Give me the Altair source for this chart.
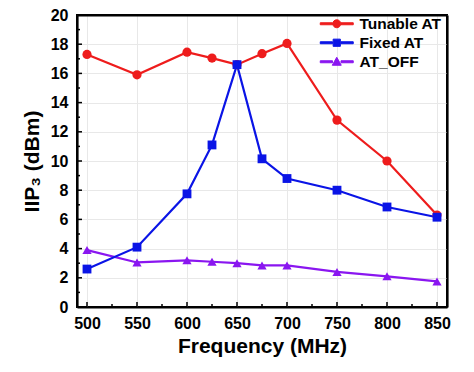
import altair as alt
import pandas as pd

# ---- data ----
freq = [500, 550, 600, 625, 650, 675, 700, 750, 800, 850]
tunable = [17.3, 15.9, 17.45, 17.05, 16.6, 17.35, 18.05, 12.8, 10.0, 6.3]
fixed = [2.6, 4.1, 7.75, 11.1, 16.6, 10.15, 8.8, 8.0, 6.85, 6.15]
at_off = [3.9, 3.05, 3.2, 3.1, 3.0, 2.85, 2.85, 2.4, 2.1, 1.75]

series = ["Tunable AT", "Fixed AT", "AT_OFF"]
colors = ["#ee1c1c", "#0a14e6", "#8a16f0"]
shapes = ["circle", "square", "triangle-up"]

x_major = [500, 550, 600, 650, 700, 750, 800, 850]
x_minor = [525, 575, 625, 675, 725, 775, 825]
y_major = [0, 2, 4, 6, 8, 10, 12, 14, 16, 18, 20]
y_minor = [1, 3, 5, 7, 9, 11, 13, 15, 17, 19]
x_range = [490, 860]
y_range = [0, 20]

rows = []
for name, vals in [("AT_OFF", at_off), ("Tunable AT", tunable), ("Fixed AT", fixed)]:
    for f, v in zip(freq, vals):
        rows.append({"freq": f, "iip3": v, "series": name})
df = pd.DataFrame(rows)

W, H = 370, 292
FONT = "Liberation Sans"

xs = alt.Scale(domain=x_range, nice=False, zero=False)
ys = alt.Scale(domain=y_range, nice=False)
cs = alt.Scale(domain=series, range=colors)

# legend symbol paths (line - marker - line), line parts as thin filled bars
line_part = "M-3.3,-0.2H-0.85V0.2H-3.3ZM0.85,-0.2H3.3V0.2H0.85Z"
p_circle = line_part + "M-0.8,0A0.8,0.8,0,1,0,0.8,0A0.8,0.8,0,1,0,-0.8,0Z"
p_square = line_part + "M-0.72,-0.72H0.72V0.72H-0.72Z"
p_tri = line_part + "M0,-0.9L0.9,0.7H-0.9Z"

shape_sig = (
    f"datum.value === 'Tunable AT' ? '{p_circle}' : "
    f"datum.value === 'Fixed AT' ? '{p_square}' : '{p_tri}'"
)
color_sig = (
    f"datum.value === 'Tunable AT' ? '{colors[0]}' : "
    f"datum.value === 'Fixed AT' ? '{colors[1]}' : '{colors[2]}'"
)

legend = alt.Legend(
    title=None,
    orient="none",
    legendX=252,
    legendY=1,
    labelFont=FONT,
    labelFontSize=15.5,
    labelFontWeight="bold",
    labelColor="black",
    symbolSize=100,
    symbolType=alt.ExprRef(expr=shape_sig),
    symbolFillColor=alt.ExprRef(expr=color_sig),
    symbolStrokeColor=alt.ExprRef(expr=color_sig),
    symbolStrokeWidth=1,
    symbolOpacity=1,
    labelOffset=15,
    rowPadding=2,
    padding=0,
)

common = dict(
    labelFont=FONT,
    labelFontSize=16,
    labelFontWeight="bold",
    labelColor="black",
    labelOverlap=False,
    ticks=False,
    domain=True,
    domainColor="black",
    domainWidth=2.2,
    grid=True,
    gridColor="#e8e8e8",
    gridWidth=1,
    titleFont=FONT,
    titleFontSize=21,
    titleFontWeight="bold",
    titleColor="black",
)

x_axis = alt.Axis(values=x_major, title="Frequency (MHz)", titlePadding=4,
                  labelPadding=8, **common)
y_axis = alt.Axis(values=y_major, title="IIP₃ (dBm)", titlePadding=8,
                  labelPadding=9, **common)

# top / right edges of the frame as plain axis domains
x_top = alt.Axis(orient="top", labels=False, ticks=False, grid=False, title=None,
                 domain=True, domainColor="black", domainWidth=2.2)
y_right = alt.Axis(orient="right", labels=False, ticks=False, grid=False, title=None,
                   domain=True, domainColor="black", domainWidth=2.2)

lines = alt.Chart(df).mark_line(strokeWidth=2.2).encode(
    x=alt.X("freq:Q", scale=xs, axis=x_axis),
    y=alt.Y("iip3:Q", scale=ys, axis=y_axis),
    color=alt.Color("series:N", scale=cs, legend=legend, sort=series),
    detail="series:N",
)


def point_layer(name, shape, size):
    return (
        alt.Chart(df)
        .transform_filter(alt.datum.series == name)
        .mark_point(filled=True, opacity=1, size=size, shape=shape)
        .encode(
            x=alt.X("freq:Q", scale=xs, axis=None),
            y=alt.Y("iip3:Q", scale=ys, axis=None),
            color=alt.Color("series:N", scale=cs, legend=None),
        )
    )


pts_off = point_layer("AT_OFF", shapes[2], 85)
pts_tun = point_layer("Tunable AT", shapes[0], 85)
pts_fix = point_layer("Fixed AT", shapes[1], 78)

ymaj = pd.DataFrame({"v": y_major})
ymin = pd.DataFrame({"v": y_minor})
xmaj = pd.DataFrame({"v": x_major})
xmin = pd.DataFrame({"v": x_minor})

ytick_major = alt.Chart(ymaj).mark_rule(color="black", strokeWidth=1.5).encode(
    y=alt.Y("v:Q", scale=ys, axis=None), x=alt.value(0), x2=alt.value(5)
)
ytick_minor = alt.Chart(ymin).mark_rule(color="black", strokeWidth=1.5).encode(
    y=alt.Y("v:Q", scale=ys, axis=None), x=alt.value(0), x2=alt.value(3)
)
xtick_major = alt.Chart(xmaj).mark_rule(color="black", strokeWidth=1.5).encode(
    x=alt.X("v:Q", scale=xs, axis=None), y=alt.value(H), y2=alt.value(H - 5)
)
xtick_minor = alt.Chart(xmin).mark_rule(color="black", strokeWidth=1.5).encode(
    x=alt.X("v:Q", scale=xs, axis=None), y=alt.value(H), y2=alt.value(H - 3)
)

# layer carrying the top/right frame axes (points at the plot corners)
corners = pd.DataFrame({"x": x_range, "y": y_range})
frame = alt.Chart(corners).mark_point(opacity=0, size=1).encode(
    x=alt.X("x:Q", scale=xs, axis=x_top),
    y=alt.Y("y:Q", scale=ys, axis=y_right),
)

chart = (
    alt.layer(lines, pts_off, pts_tun, pts_fix,
              ytick_major, ytick_minor, xtick_major, xtick_minor, frame)
    .resolve_axis(x="independent", y="independent")
    .properties(
        width=W,
        height=H,
        background="white",
        autosize=alt.AutoSizeParams(type="none"),
        padding={"left": 69, "top": 7, "right": 19, "bottom": 55},
    )
    .configure_view(stroke="black", strokeWidth=2)
)

chart.save("out.html", embed_options={"renderer": "svg", "actions": False})
